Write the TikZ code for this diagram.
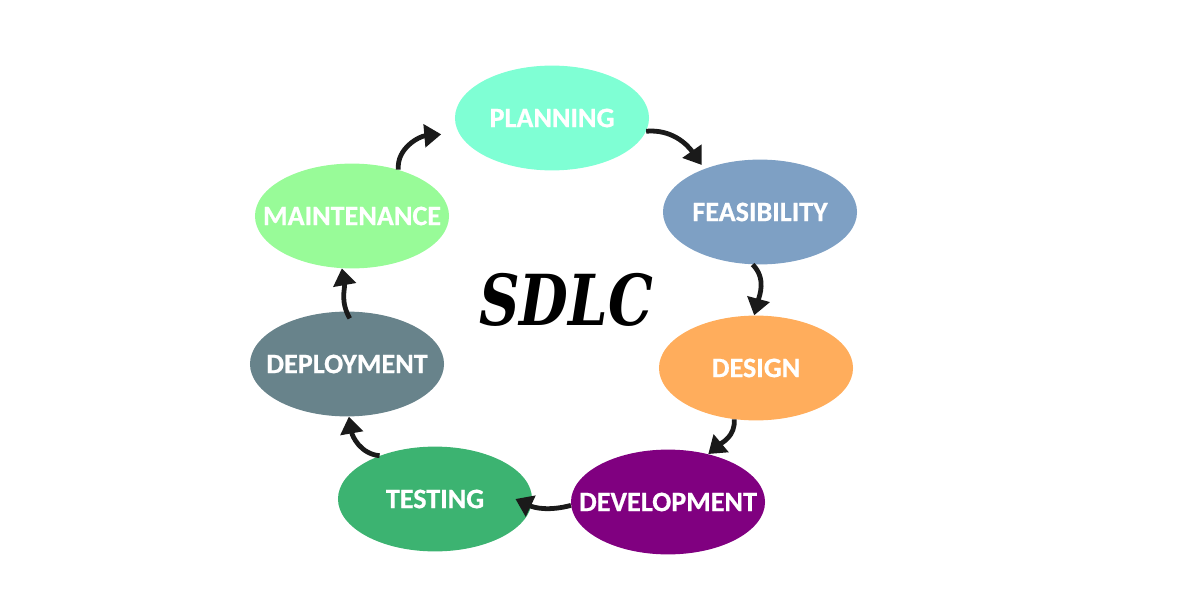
\documentclass[tikz,border=0pt]{standalone}
\usepackage{fontspec}
\setmainfont{Carlito}
\newfontfamily\phfont{Carlito}[BoldFeatures={FakeBold=0.6}]
\newfontfamily\sdlcfont{DejaVu Serif}
\usetikzlibrary{shapes.geometric,arrows.meta}
\definecolor{planc}{RGB}{127,255,212}
\definecolor{feasc}{RGB}{126,160,196}
\definecolor{desc}{RGB}{255,173,92}
\definecolor{devc}{RGB}{128,0,128}
\definecolor{testc}{RGB}{60,179,113}
\definecolor{depc}{RGB}{104,131,139}
\definecolor{maintc}{RGB}{152,251,152}
\definecolor{arrc}{RGB}{26,26,26}
\newcommand{\phname}[1]{\makebox[0pt][c]{#1}}
\tikzset{
  phase/.style={ellipse, inner sep=0pt, minimum width=4.85cm, minimum height=2.62cm,
    text=white, font=\phfont\fontsize{20}{24}\selectfont\bfseries},
  turn/.style={draw=arrc, line width=3.4pt,
    -{Triangle[length=12pt,width=16pt]}}
}
\begin{document}
\begin{tikzpicture}[x=0.025cm,y=0.025cm]
      \useasboundingbox (0,0) rectangle (1200,600);
      \draw[draw=none]
        (552,482) node[phase,fill=planc] (plan){\phname{PLANNING}}
        (760,388) node[phase,fill=feasc] (feas){\phname{FEASIBILITY}}
        (756,232) node[phase,fill=desc] (des){\phname{DESIGN}}
        (668,98) node[phase,fill=devc] (dev){\phname{DEVELOPMENT}}
        (435,101) node[phase,fill=testc] (test){\phname{TESTING}}
        (347,236) node[phase,fill=depc] (dep){\phname{DEPLOYMENT}}
        (352,384) node[phase,fill=maintc] (maint){\phname{MAINTENANCE}};
      \node[font=\sdlcfont\fontsize{50}{56}\selectfont\bfseries\itshape, xscale=0.8]
        (sdlc) at (566,300) {SDLC};
      \begin{scope}[turn]
        \draw (maint.45) to[out=95,in=185] ([xshift=-13pt]plan.190);
        \draw (plan.352) to[out=5,in=125] ([shift={(-4pt,2pt)}]feas.140);
        \draw (feas.262) to[out=-45,in=75] (des.92);
        \draw (des.247) to[out=-85,in=40,shorten >=-6pt] (dev.50);
        \draw (dev.182) to[out=195,in=-25] ([xshift=-12]test.east);
        \draw (test.142) to[out=175,in=-80,shorten >=-3pt] (dep.272);
        \draw ([yshift=-5pt]dep.87) to[out=120,in=-80] (maint.259);
      \end{scope}
    \end{tikzpicture}
\end{document}
